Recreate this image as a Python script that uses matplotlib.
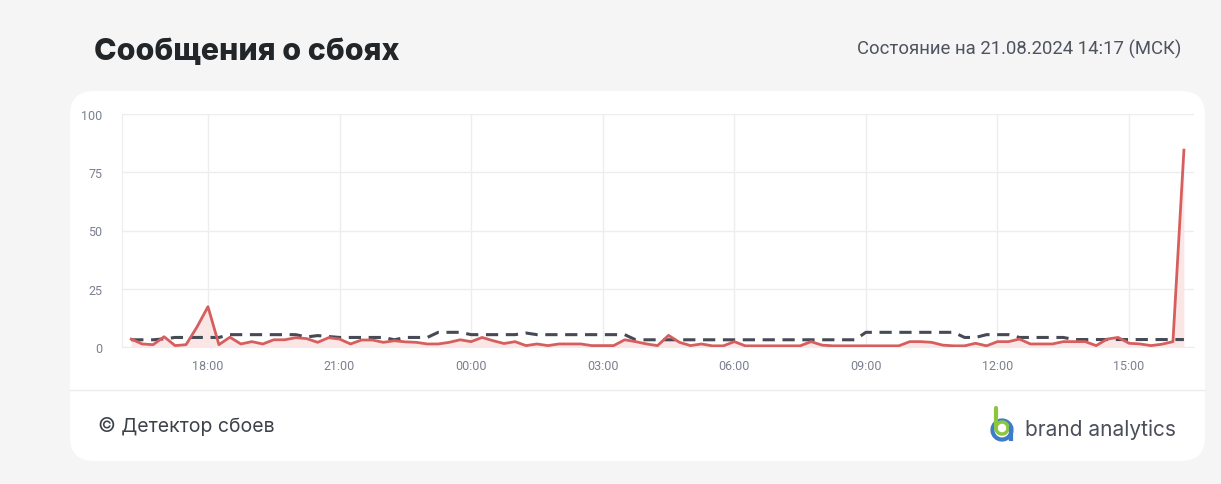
import matplotlib
matplotlib.use("Agg")
import matplotlib.pyplot as plt
from matplotlib.patches import FancyBboxPatch, Arc
import numpy as np

# === DATA ===
# time in hours from 00:00 of the first day, 15-minute steps 16:15 -> 16:15 next day
start_hour = 16.25
step_hours = 0.25

reports = [
    3.4, 1.3, 1.0, 4.4, 0.6, 1.0, 8.6, 17.3, 1.0, 4.2,
    1.3, 2.3, 1.3, 3.1, 3.1, 4.0, 3.6, 2.0, 4.0, 3.4,
    1.3, 3.0, 3.0, 2.0, 2.7, 2.2, 2.0, 1.3, 1.3, 2.0,
    3.1, 2.3, 4.1, 2.7, 1.5, 2.3, 0.6, 1.3, 0.6, 1.3,
    1.3, 1.3, 0.6, 0.6, 0.6, 3.1, 2.3, 1.3, 0.6, 5.0,
    2.0, 0.6, 1.3, 0.5, 0.5, 2.3, 0.5, 0.5, 0.5, 0.5,
    0.5, 0.5, 2.3, 0.8, 0.5, 0.5, 0.5, 0.5, 0.5, 0.5,
    0.5, 2.3, 2.3, 2.0, 0.8, 0.5, 0.5, 1.6, 0.5, 2.3,
    2.3, 3.4, 1.3, 1.3, 1.3, 2.3, 2.3, 2.3, 0.6, 3.4,
    4.1, 1.6, 1.3, 0.6, 1.2, 2.3, 84.5,
]

baseline = [
    3.1, 3.1, 3.1, 3.5, 4.1, 4.1, 4.1, 4.1, 4.1, 5.3,
    5.3, 5.3, 5.3, 5.3, 5.3, 5.3, 4.3, 4.9, 4.5, 4.1,
    4.1, 4.1, 4.1, 4.1, 3.1, 4.1, 4.1, 4.1, 6.3, 6.3,
    6.3, 5.3, 5.3, 5.3, 5.3, 5.3, 6.0, 5.3, 5.3, 5.3,
    5.3, 5.3, 5.3, 5.3, 5.3, 5.3, 3.1, 3.1, 3.1, 3.1,
    3.1, 3.1, 3.1, 3.1, 3.1, 3.1, 3.1, 3.1, 3.1, 3.1,
    3.1, 3.1, 3.1, 3.1, 3.1, 3.1, 3.1, 6.3, 6.3, 6.3,
    6.3, 6.3, 6.3, 6.3, 6.3, 6.3, 4.1, 4.1, 5.3, 5.3,
    5.3, 4.1, 4.1, 4.1, 4.1, 4.1, 3.2, 3.2, 3.2, 3.2,
    3.2, 3.2, 3.2, 3.2, 3.2, 3.2, 3.2,
]

tick_hours = [18, 21, 24, 27, 30, 33, 36, 39]
tick_labels = ["18:00", "21:00", "00:00", "03:00", "06:00", "09:00", "12:00", "15:00"]
y_ticks = [0, 25, 50, 75, 100]

title = "Сообщения о сбоях"
status = "Состояние на 21.08.2024 14:17 (МСК)"
footer = "© Детектор сбоев"
brand = "brand analytics"

hours = start_hour + step_hours * np.arange(len(reports))

W, H = 1221, 485
fig = plt.figure(figsize=(W / 100, H / 100), dpi=100)
fig.patch.set_facecolor("#f5f5f5")

# background layer in pixel coordinates
bg = fig.add_axes([0, 0, 1, 1])
bg.set_xlim(0, W)
bg.set_ylim(H, 0)
bg.axis("off")

card = FancyBboxPatch((70, 92), 1135, 370, boxstyle="round,pad=0,rounding_size=24",
                      facecolor="white", edgecolor="none")
bg.add_patch(card)
bg.plot([70, 1205], [391, 391], color="#ececec", lw=1)

bg.text(94, 52, title, fontsize=21.8, fontweight="heavy", color="#232629",
        family="Inter", va="center", ha="left")
bg.text(1181, 49, status, fontsize=13.3, color="#4f5360", family="Roboto",
        va="center", ha="right")
bg.text(98, 427, footer, fontsize=14, color="#3d414a", family="Inter",
        va="center", ha="left")
bg.text(1176, 430, brand, fontsize=15, color="#4b4f5a", family="Inter",
        va="center", ha="right")

# brand logo: green "b" over a blue "a"
bg.add_patch(Arc((1002, 431), 19, 19, theta1=0, theta2=360, color="#3d7cc9", lw=3))
bg.plot([1011, 1011], [429, 440], color="#3d7cc9", lw=3)
bg.plot([995.5, 995.5], [409, 429], color="#8cc63f", lw=3, solid_capstyle="round")
bg.add_patch(Arc((1002, 429), 12, 12, theta1=0, theta2=360, color="#8cc63f", lw=2.5))

# chart
ax = fig.add_axes([122 / W, 1 - 348 / H, (1194 - 122) / W, (348 - 115) / H])
ax.set_facecolor("white")
ax.fill_between(hours, reports, 0, color="#fbe6e6", lw=0, zorder=2)
ax.plot(hours, reports, color="#d55f5e", lw=2, zorder=4)
ax.plot(hours, baseline, color="#454a55", lw=2.2, ls=(0, (4, 2.5)), zorder=3)

ax.set_xlim(16.04, 40.48)
ax.set_ylim(0, 100)
ax.set_yticks(y_ticks)
ax.set_xticks(tick_hours)
ax.set_xticklabels(tick_labels)
ax.grid(True, color="#ededed", lw=1, zorder=0)
ax.set_axisbelow(True)
for side in ["top", "right"]:
    ax.spines[side].set_visible(False)
ax.spines["left"].set_color("#ededed")
ax.spines["bottom"].set_color("#ededed")
ax.tick_params(length=0, pad=9, labelsize=9, labelcolor="#7b8090")
for lbl in ax.get_xticklabels() + ax.get_yticklabels():
    lbl.set_family("Roboto")
ax.tick_params(axis="y", pad=14)

fig.savefig("out.png", dpi=100, facecolor=fig.get_facecolor())
